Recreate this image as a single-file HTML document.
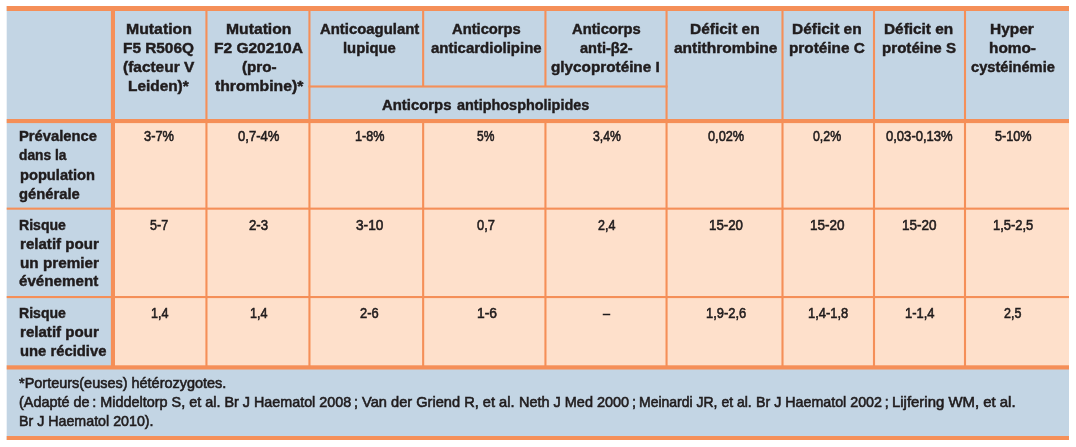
<!DOCTYPE html>
<html lang="fr">
<head>
<meta charset="utf-8">
<title>Tableau thrombophilies</title>
<style>
html,body{margin:0;padding:0;background:#fff;}
#t{position:relative;width:1076px;height:447px;overflow:hidden;background:#fff;font-family:"Liberation Sans",sans-serif;font-size:15px;line-height:20px;color:#201C1D;}
svg{position:absolute;left:0;top:0;}
.x{position:absolute;white-space:nowrap;transform-origin:0 0;-webkit-text-stroke:0.6px #201C1D;}
.b{font-weight:bold;-webkit-text-stroke:0.45px #201C1D;}
</style>
</head>
<body>
<div id="t">
<svg width="1076" height="447" viewBox="0 0 1076 447">
<rect x="6.7" y="6" width="1062.3" height="434" fill="#C3D5E4"/>
<rect x="113" y="121" width="956" height="246" fill="#FEE0CB"/>
<rect x="205.4" y="10" width="2.1" height="356.3" fill="#F58F58"/>
<rect x="308.4" y="10" width="2.1" height="356.3" fill="#F58F58"/>
<rect x="422.1" y="10" width="2.1" height="76.5" fill="#F58F58"/>
<rect x="544.4" y="10" width="2.1" height="76.5" fill="#F58F58"/>
<rect x="665.5" y="10" width="2.1" height="356.3" fill="#F58F58"/>
<rect x="781.45" y="10" width="2.1" height="356.3" fill="#F58F58"/>
<rect x="872.95" y="10" width="2.1" height="356.3" fill="#F58F58"/>
<rect x="963.95" y="10" width="2.1" height="356.3" fill="#F58F58"/>
<rect x="422.1" y="122.1" width="2.1" height="244.2" fill="#F58F58"/>
<rect x="544.4" y="122.1" width="2.1" height="244.2" fill="#F58F58"/>
<rect x="308.4" y="85.45" width="359.2" height="2.1" fill="#F58F58"/>
<rect x="6.7" y="207.6" width="1062.3" height="2.1" fill="#F58F58"/>
<rect x="6.7" y="296" width="1062.3" height="2.1" fill="#F58F58"/>
<rect x="110.9" y="10" width="4.1" height="356.3" fill="#F58F58"/>
<rect x="6.7" y="6" width="1062.3" height="5" fill="#F58F58"/>
<rect x="6.7" y="119" width="1062.3" height="4.1" fill="#F58F58"/>
<rect x="6.7" y="365.3" width="1062.3" height="4.2" fill="#F58F58"/>
<rect x="6.7" y="436" width="1062.3" height="4" fill="#F58F58"/>
</svg>
<span class="x b" style="left:125.75px;top:18.80px;transform:scaleX(1.0549)">Mutation</span>
<span class="x b" style="left:122.77px;top:37.80px;transform:scaleX(1.0245)">F5 R506Q</span>
<span class="x b" style="left:123.13px;top:56.80px;transform:scaleX(1.0297)">(facteur V</span>
<span class="x b" style="left:128.01px;top:75.80px;transform:scaleX(1.0258)">Leiden)*</span>
<span class="x b" style="left:226.10px;top:18.80px;transform:scaleX(1.0468)">Mutation</span>
<span class="x b" style="left:213.59px;top:37.80px;transform:scaleX(1.0345)">F2 G20210A</span>
<span class="x b" style="left:241.67px;top:56.80px;transform:scaleX(1.0146)">(pro-</span>
<span class="x b" style="left:214.63px;top:75.80px;transform:scaleX(1.0493)">thrombine)*</span>
<span class="x b" style="left:319.80px;top:18.80px;transform:scaleX(0.9928)">Anticoagulant</span>
<span class="x b" style="left:342.85px;top:37.80px;transform:scaleX(0.9896)">lupique</span>
<span class="x b" style="left:451.64px;top:18.80px;transform:scaleX(0.9830)">Anticorps</span>
<span class="x b" style="left:431.11px;top:37.80px;transform:scaleX(0.9981)">anticardiolipine</span>
<span class="x b" style="left:571.85px;top:18.80px;transform:scaleX(0.9830)">Anticorps</span>
<span class="x b" style="left:580.12px;top:37.80px;transform:scaleX(0.9731)">anti-β2-</span>
<span class="x b" style="left:551.33px;top:56.80px;transform:scaleX(1.0189)">glycoprotéine I</span>
<span class="x b" style="left:382.32px;top:94.80px;transform:scaleX(0.9920)">Anticorps</span>
<span class="x b" style="left:457.02px;top:94.80px;transform:scaleX(0.9623)">antiphospholipides</span>
<span class="x b" style="left:690.12px;top:18.80px;transform:scaleX(1.0317)">Déficit en</span>
<span class="x b" style="left:674.12px;top:37.80px;transform:scaleX(1.0337)">antithrombine</span>
<span class="x b" style="left:792.05px;top:18.80px;transform:scaleX(1.0317)">Déficit en</span>
<span class="x b" style="left:789.32px;top:37.80px;transform:scaleX(1.0220)">protéine C</span>
<span class="x b" style="left:883.94px;top:18.80px;transform:scaleX(1.0242)">Déficit en</span>
<span class="x b" style="left:881.96px;top:37.80px;transform:scaleX(1.0087)">protéine S</span>
<span class="x b" style="left:990.37px;top:18.80px;transform:scaleX(1.0296)">Hyper</span>
<span class="x b" style="left:989.13px;top:37.80px;transform:scaleX(1.0244)">homo-</span>
<span class="x b" style="left:971.36px;top:56.80px;transform:scaleX(0.9762)">cystéinémie</span>
<span class="x b" style="left:19.24px;top:125.80px;transform:scaleX(0.9842)">Prévalence</span>
<span class="x b" style="left:19.26px;top:144.80px;transform:scaleX(0.9168)">dans la</span>
<span class="x b" style="left:19.72px;top:164.80px;transform:scaleX(0.9774)">population</span>
<span class="x b" style="left:19.27px;top:183.80px;transform:scaleX(0.9845)">générale</span>
<span class="x b" style="left:19.37px;top:214.80px;transform:scaleX(0.9386)">Risque</span>
<span class="x b" style="left:19.93px;top:233.80px;transform:scaleX(1.0069)">relatif pour</span>
<span class="x b" style="left:19.73px;top:252.80px;transform:scaleX(1.0175)">un premier</span>
<span class="x b" style="left:19.33px;top:270.80px;transform:scaleX(1.0111)">événement</span>
<span class="x b" style="left:19.37px;top:302.80px;transform:scaleX(0.9386)">Risque</span>
<span class="x b" style="left:19.93px;top:321.80px;transform:scaleX(1.0069)">relatif pour</span>
<span class="x b" style="left:19.72px;top:340.80px;transform:scaleX(0.9869)">une récidive</span>
<span class="x" style="left:144.16px;top:125.80px;transform:scaleX(0.8560)">3-7%</span>
<span class="x" style="left:238.43px;top:125.80px;transform:scaleX(0.8710)">0,7-4%</span>
<span class="x" style="left:354.78px;top:125.80px;transform:scaleX(0.8416)">1-8%</span>
<span class="x" style="left:477.48px;top:125.80px;transform:scaleX(0.8012)">5%</span>
<span class="x" style="left:593.18px;top:125.80px;transform:scaleX(0.8156)">3,4%</span>
<span class="x" style="left:707.54px;top:125.80px;transform:scaleX(0.8497)">0,02%</span>
<span class="x" style="left:813.22px;top:125.80px;transform:scaleX(0.8229)">0,2%</span>
<span class="x" style="left:885.75px;top:125.80px;transform:scaleX(0.8692)">0,03-0,13%</span>
<span class="x" style="left:994.68px;top:125.80px;transform:scaleX(0.8451)">5-10%</span>
<span class="x" style="left:149.86px;top:214.80px;transform:scaleX(0.8357)">5-7</span>
<span class="x" style="left:249.20px;top:214.80px;transform:scaleX(0.8813)">2-3</span>
<span class="x" style="left:356.15px;top:214.80px;transform:scaleX(0.9114)">3-10</span>
<span class="x" style="left:477.44px;top:214.80px;transform:scaleX(0.8565)">0,7</span>
<span class="x" style="left:598.14px;top:214.80px;transform:scaleX(0.8328)">2,4</span>
<span class="x" style="left:708.82px;top:214.80px;transform:scaleX(0.8867)">15-20</span>
<span class="x" style="left:810.23px;top:214.80px;transform:scaleX(0.9000)">15-20</span>
<span class="x" style="left:902.39px;top:214.80px;transform:scaleX(0.9000)">15-20</span>
<span class="x" style="left:993.07px;top:214.80px;transform:scaleX(0.8621)">1,5-2,5</span>
<span class="x" style="left:150.53px;top:302.80px;transform:scaleX(0.8369)">1,4</span>
<span class="x" style="left:250.35px;top:302.80px;transform:scaleX(0.8369)">1,4</span>
<span class="x" style="left:360.14px;top:302.80px;transform:scaleX(0.8585)">2-6</span>
<span class="x" style="left:476.54px;top:302.80px;transform:scaleX(0.9234)">1-6</span>
<span class="x" style="left:603.15px;top:302.80px;transform:scaleX(0.8400)">–</span>
<span class="x" style="left:705.83px;top:302.80px;transform:scaleX(0.8621)">1,9-2,6</span>
<span class="x" style="left:807.76px;top:302.80px;transform:scaleX(0.8621)">1,4-1,8</span>
<span class="x" style="left:904.92px;top:302.80px;transform:scaleX(0.8626)">1-1,4</span>
<span class="x" style="left:1004.44px;top:302.80px;transform:scaleX(0.8328)">2,5</span>
<span class="x" style="left:18.69px;top:372.80px;transform:scaleX(0.9639)">*Porteurs(euses) hétérozygotes.</span>
<span class="x" style="left:19.19px;top:391.80px;transform:scaleX(0.9600)">(Adapté de : Middeltorp S, et al. Br J</span>
<span class="x" style="left:253.83px;top:391.80px;transform:scaleX(0.9549)">Haematol 2008 ;</span>
<span class="x" style="left:362.04px;top:391.80px;transform:scaleX(0.9750)">Van der Griend R, et al.</span>
<span class="x" style="left:518.83px;top:391.80px;transform:scaleX(0.9638)">Neth J Med 2000 ;</span>
<span class="x" style="left:638.85px;top:391.80px;transform:scaleX(0.9324)">Meinardi JR, et al.</span>
<span class="x" style="left:755.59px;top:391.80px;transform:scaleX(0.9499)">Br J Haematol 2002 ;</span>
<span class="x" style="left:891.80px;top:391.80px;transform:scaleX(0.9948)">Lijfering WM, et al.</span>
<span class="x" style="left:18.54px;top:410.80px;transform:scaleX(0.9489)">Br J Haematol 2010).</span>
</div>
</body>
</html>
